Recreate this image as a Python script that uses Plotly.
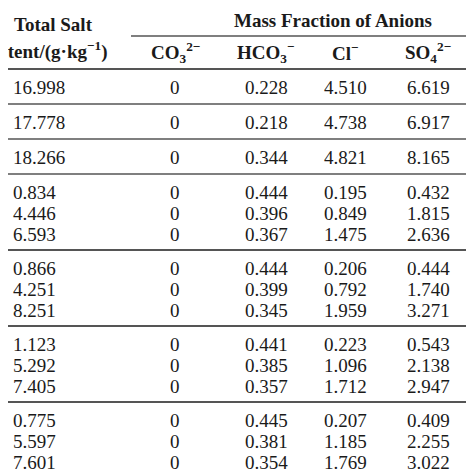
import plotly.graph_objects as go

total_salt = ["16.998", "17.778", "18.266", "0.834", "4.446", "6.593", "0.866", "4.251", "8.251",
              "1.123", "5.292", "7.405", "0.775", "5.597", "7.601"]
co3 = ["0"] * 15
hco3 = ["0.228", "0.218", "0.344", "0.444", "0.396", "0.367", "0.444", "0.399", "0.345",
        "0.441", "0.385", "0.357", "0.445", "0.381", "0.354"]
cl = ["4.510", "4.738", "4.821", "0.195", "0.849", "1.475", "0.206", "0.792", "1.959",
      "0.223", "1.096", "1.712", "0.207", "1.185", "1.769"]
so4 = ["6.619", "6.917", "8.165", "0.432", "1.815", "2.636", "0.444", "1.740", "3.271",
       "0.543", "2.138", "2.947", "0.409", "2.255", "3.022"]
col_headers = ["CO<sub>3</sub><sup>2−</sup>", "HCO<sub>3</sub><sup>−</sup>", "Cl<sup>−</sup>", "SO<sub>4</sub><sup>2−</sup>"]
groups = [1, 1, 1, 3, 3, 3, 3]

W = H = 474
FONT = "Liberation Serif"
fig = go.Figure()
fig.update_layout(width=W, height=H, margin=dict(l=0, r=0, t=0, b=0),
                  paper_bgcolor="white", plot_bgcolor="white",
                  xaxis=dict(visible=False, range=[0, W]),
                  yaxis=dict(visible=False, range=[H, 0]))

def txt(x, y, s, anchor="center", bold=False, size=19):
    fig.add_annotation(x=x, y=y, xref="x", yref="y", text=f"<b>{s}</b>" if bold else s,
                       showarrow=False, xanchor=anchor, yanchor="middle",
                       font=dict(family=FONT, size=size, color="#1a1a1a"))

def hline(x0, x1, y, w=1.5, c="#555"):
    fig.add_shape(type="line", x0=x0, x1=x1, y0=y, y1=y, xref="x", yref="y",
                  line=dict(color=c, width=w))

# headers
txt(45, 16, "Total Salt", bold=True, size=19)
txt(102, 42, "Content/(g·kg<sup>−1</sup>)", anchor="right", bold=True, size=19)
txt(325, 12, "Mass Fraction of Anions", bold=True, size=19)
hline(123, W, 28)
col_x = [167, 258, 337, 420]
for x, h in zip(col_x, col_headers):
    txt(x, 44, h, bold=True, size=19)
hline(0, W, 61, 2)

cols = [co3, hco3, cl, so4]
y = 61
i = 0
for gi, n in enumerate(groups):
    if n == 1:
        ys = [y + 18]
        y_end = y + 35
    else:
        ys = [y + 18 + 21 * k for k in range(n)]
        y_end = y + 76
    for yy in ys:
        txt(3, yy, total_salt[i], anchor="left")
        for x, c in zip(col_x, cols):
            txt(x, yy, c[i])
        i += 1
    if gi < len(groups) - 1:
        hline(0, W, y_end, 1.5 if n == 1 else 2)
    y = y_end

fig.write_html("out.html")
